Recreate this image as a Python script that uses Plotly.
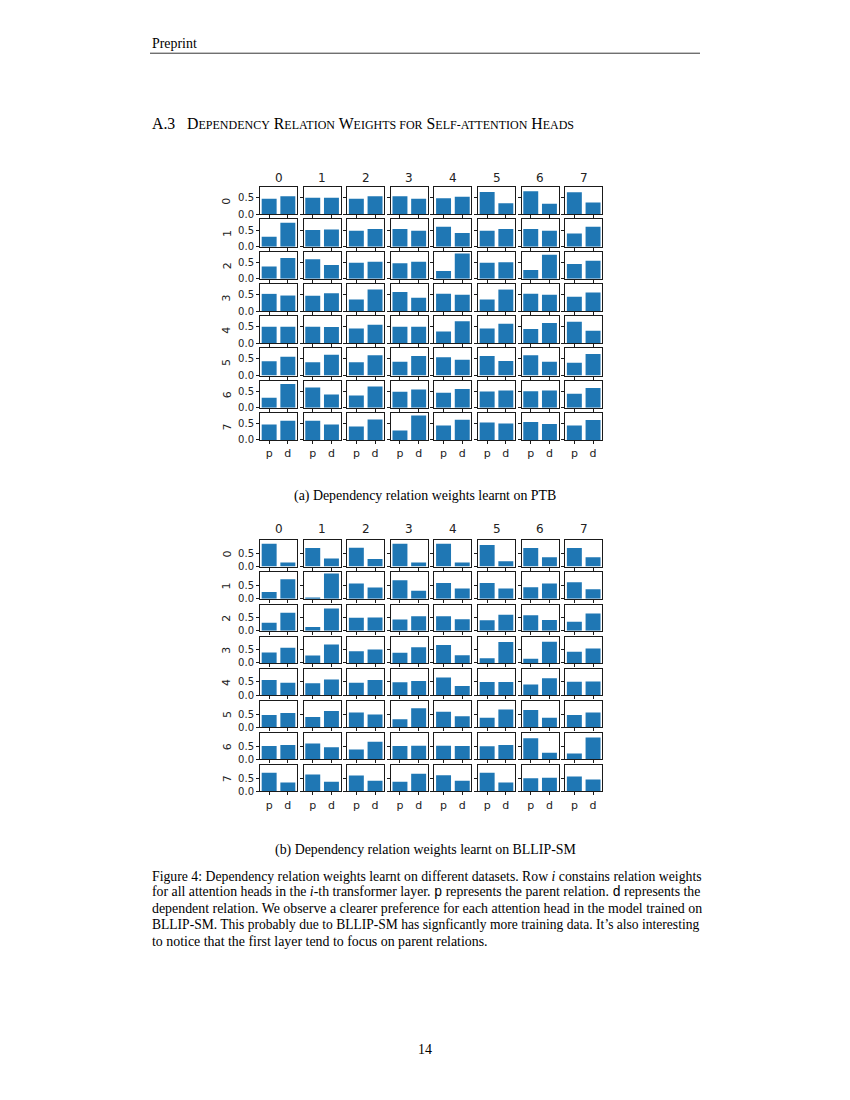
import plotly.graph_objects as go

# attention heads (columns) and transformer layers (rows)
heads = ["0", "1", "2", "3", "4", "5", "6", "7"]
layers = ["0", "1", "2", "3", "4", "5", "6", "7"]
relations = ["p", "d"]

# (a) PTB : weight of parent / dependent relation, one row per layer
ptb_parent = [
    [0.47, 0.50, 0.47, 0.55, 0.49, 0.68, 0.70, 0.67],
    [0.30, 0.50, 0.48, 0.53, 0.60, 0.48, 0.53, 0.40],
    [0.37, 0.59, 0.49, 0.47, 0.24, 0.49, 0.27, 0.45],
    [0.52, 0.46, 0.35, 0.58, 0.52, 0.35, 0.52, 0.43],
    [0.50, 0.50, 0.45, 0.50, 0.36, 0.45, 0.43, 0.65],
    [0.43, 0.40, 0.40, 0.42, 0.55, 0.59, 0.61, 0.39],
    [0.30, 0.61, 0.37, 0.48, 0.45, 0.49, 0.50, 0.42],
    [0.47, 0.58, 0.41, 0.29, 0.44, 0.53, 0.54, 0.44],
]
ptb_dependent = [
    [0.55, 0.50, 0.55, 0.47, 0.53, 0.34, 0.32, 0.36],
    [0.72, 0.52, 0.53, 0.48, 0.41, 0.53, 0.48, 0.60],
    [0.63, 0.42, 0.52, 0.52, 0.77, 0.50, 0.73, 0.55],
    [0.47, 0.54, 0.65, 0.40, 0.49, 0.65, 0.49, 0.56],
    [0.50, 0.49, 0.56, 0.50, 0.67, 0.59, 0.61, 0.38],
    [0.57, 0.63, 0.61, 0.59, 0.48, 0.44, 0.42, 0.65],
    [0.72, 0.40, 0.64, 0.55, 0.57, 0.52, 0.52, 0.60],
    [0.58, 0.47, 0.62, 0.74, 0.61, 0.50, 0.48, 0.60],
]

# (b) BLLIP-SM
bllip_parent = [
    [0.87, 0.71, 0.72, 0.87, 0.87, 0.82, 0.71, 0.71],
    [0.26, 0.05, 0.58, 0.70, 0.60, 0.60, 0.44, 0.63],
    [0.31, 0.15, 0.50, 0.43, 0.56, 0.40, 0.59, 0.35],
    [0.40, 0.28, 0.45, 0.39, 0.68, 0.18, 0.16, 0.43],
    [0.57, 0.45, 0.47, 0.49, 0.67, 0.50, 0.40, 0.51],
    [0.47, 0.39, 0.56, 0.30, 0.59, 0.36, 0.66, 0.47],
    [0.51, 0.60, 0.37, 0.51, 0.52, 0.50, 0.80, 0.22],
    [0.71, 0.65, 0.61, 0.37, 0.62, 0.71, 0.50, 0.57],
]
bllip_dependent = [
    [0.16, 0.31, 0.29, 0.16, 0.16, 0.20, 0.36, 0.36],
    [0.74, 0.96, 0.43, 0.30, 0.39, 0.39, 0.58, 0.36],
    [0.69, 0.85, 0.51, 0.56, 0.44, 0.61, 0.41, 0.66],
    [0.58, 0.70, 0.51, 0.60, 0.29, 0.80, 0.81, 0.55],
    [0.47, 0.59, 0.57, 0.54, 0.35, 0.50, 0.64, 0.52],
    [0.54, 0.62, 0.48, 0.72, 0.42, 0.67, 0.36, 0.56],
    [0.55, 0.46, 0.67, 0.52, 0.51, 0.55, 0.25, 0.83],
    [0.34, 0.37, 0.41, 0.67, 0.41, 0.34, 0.52, 0.46],
]

W, H = 850, 1100
BLUE = "#1f77b4"
SERIF = "Liberation Serif"
SANS = "DejaVu Sans"


def fx(px):
    return px / W


def fy(px):
    return 1 - px / H


# page geometry of the two grids (top of first row, cell height, row pitch, y max, header y)
grids = [
    (ptb_parent, ptb_dependent, 188.3, 27.3, 32.4, 0.82, 179),
    (bllip_parent, bllip_dependent, 543.3, 26.4, 32.3, 1.0, 532),
]
col_left, col_w, col_pitch = 260.0, 37.0, 43.6

fig = go.Figure()
axes = {}
annotations = []


def note(x, y, text, size, family, anchor="center", angle=0, color="#222"):
    annotations.append(dict(
        x=fx(x), y=fy(y), xref="paper", yref="paper", text=text,
        showarrow=False, xanchor=anchor, yanchor="middle", textangle=angle,
        font=dict(family=family, size=size, color=color),
    ))


n = 0
for parent, dependent, top, cell_h, row_pitch, ymax, head_y in grids:
    for r in range(len(layers)):
        y0 = top + r * row_pitch
        for c in range(len(heads)):
            n += 1
            x0 = col_left + c * col_pitch
            xs = "x" if n == 1 else f"x{n}"
            ys = "y" if n == 1 else f"y{n}"
            fig.add_trace(go.Bar(
                x=relations, y=[parent[r][c], dependent[r][c]],
                xaxis=xs, yaxis=ys, width=0.8,
                marker=dict(color=BLUE, line=dict(width=0)),
                showlegend=False,
            ))
            axes["xaxis" if n == 1 else f"xaxis{n}"] = dict(
                domain=[fx(x0), fx(x0 + col_w)], anchor=ys, type="category",
                range=[-0.49, 1.49], showgrid=False, zeroline=False,
                showline=True, mirror=True, linecolor="#1a1a1a", linewidth=1,
                ticks="outside", ticklen=3, tickwidth=1, tickcolor="#1a1a1a",
                showticklabels=(r == len(layers) - 1),
                tickfont=dict(family=SANS, size=11, color="#222"),
                fixedrange=True,
            )
            axes["yaxis" if n == 1 else f"yaxis{n}"] = dict(
                domain=[fy(y0 + cell_h), fy(y0)], anchor=xs,
                range=[0, ymax], showgrid=False, zeroline=False,
                showline=True, mirror=True, linecolor="#1a1a1a", linewidth=1,
                ticks="outside", ticklen=3, tickwidth=1, tickcolor="#1a1a1a",
                tickvals=[0, 0.5], ticktext=["0.0", "0.5"],
                showticklabels=(c == 0),
                tickfont=dict(family=SANS, size=10, color="#222"),
                fixedrange=True,
            )
        # layer label, rotated like a matplotlib ylabel
        note(227, y0 + cell_h / 2, layers[r], 11, SANS, angle=-90)
    for c in range(len(heads)):
        note(col_left + c * col_pitch + col_w / 2, head_y, heads[c], 12, SANS)

sc = "<span style='font-size:12px'>"
note(150, 44, "Preprint", 13.9, SERIF, anchor="left", color="#000")
note(150, 124,
     "A.3\u00a0\u00a0\u00a0D" + sc + "EPENDENCY</span> R" + sc + "ELATION</span> W"
     + sc + "EIGHTS FOR</span> S" + sc + "ELF-ATTENTION</span> H" + sc + "EADS</span>",
     15.8, SERIF, anchor="left", color="#000")
note(425, 499, "(a) Dependency relation weights learnt on PTB", 13.9, SERIF, color="#000")
note(425, 855, "(b) Dependency relation weights learnt on BLLIP-SM", 13.9, SERIF, color="#000")

tt_p = "<span style='font-family:Liberation Mono'>p</span>"
tt_d = "<span style='font-family:Liberation Mono'>d</span>"
caption_lines = [
    "Figure 4: Dependency relation weights learnt on different datasets. Row <i>i</i> constains relation weights",
    "for all attention heads in the <i>i</i>-th transformer layer. " + tt_p + " represents the parent relation. "
    + tt_d + " represents the",
    "dependent relation. We observe a clearer preference for each attention head in the model trained on",
    "BLLIP-SM. This probably due to BLLIP-SM has signficantly more training data. It\u2019s also interesting",
    "to notice that the first layer tend to focus on parent relations.",
]
# the justified lines of the paragraph each fill the text width
caption_sizes = [13.75, 13.8, 13.9, 13.55, 13.9]
for i, line in enumerate(caption_lines):
    note(150, 881 + i * 16.3, line, caption_sizes[i], SERIF, anchor="left", color="#000")
note(425, 1055, "14", 13.9, SERIF, color="#000")

fig.update_layout(
    width=W, height=H, margin=dict(l=0, r=0, t=0, b=0),
    paper_bgcolor="white", plot_bgcolor="white", showlegend=False,
    annotations=annotations,
    shapes=[dict(type="line", xref="paper", yref="paper",
                 x0=fx(150), x1=fx(700), y0=fy(53.5), y1=fy(53.5),
                 line=dict(color="#000", width=0.8))],
    **axes,
)

fig.write_html("out.html", config={"displayModeBar": False},
               post_script="document.body.style.margin='0';")
